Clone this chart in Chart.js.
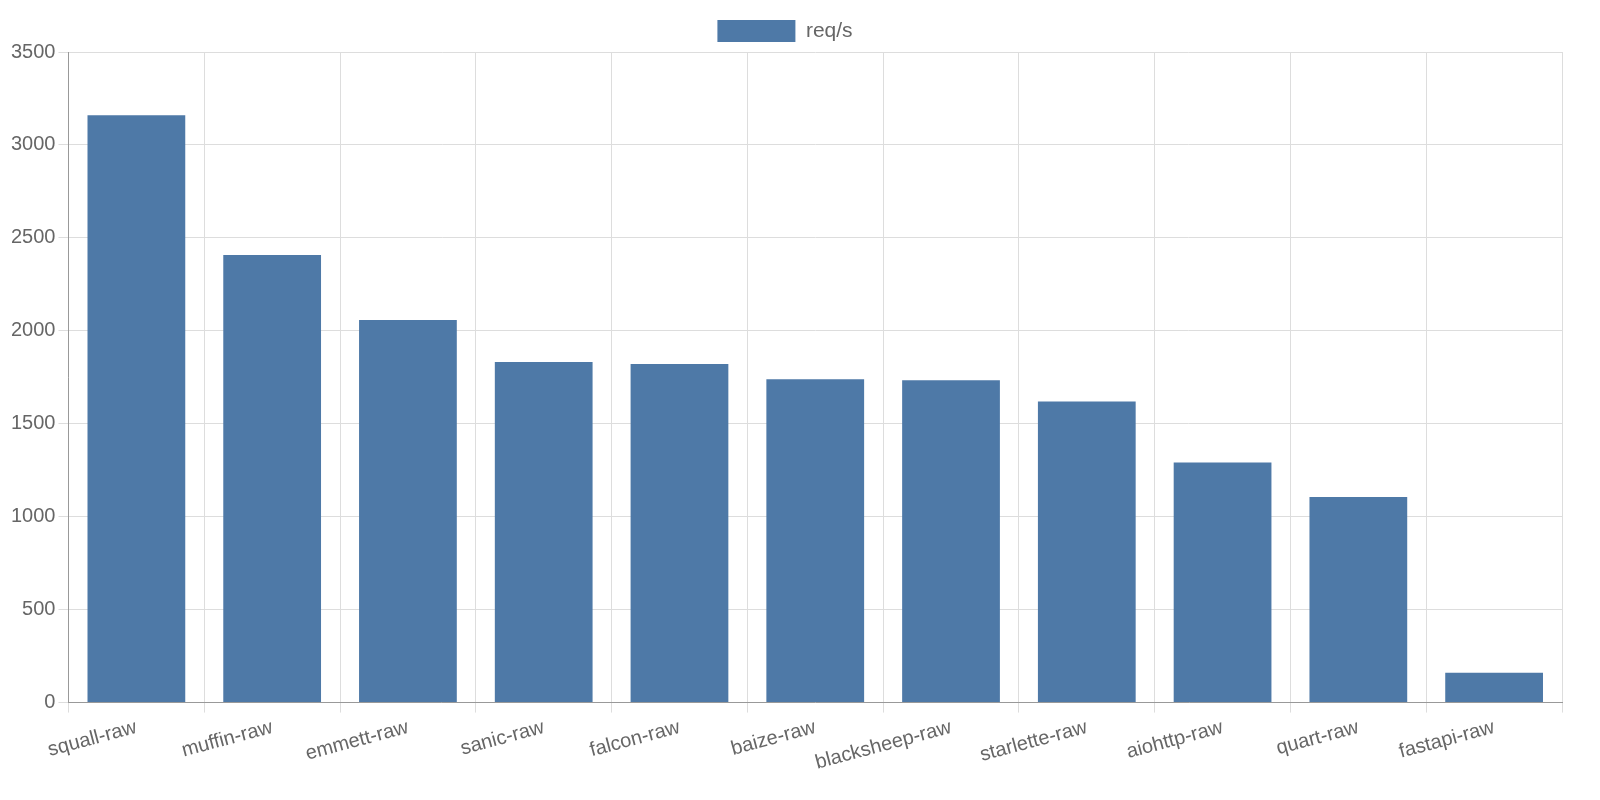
<!DOCTYPE html>
<html><head><meta charset="utf-8">
<script src="https://cdn.jsdelivr.net/npm/chart.js@4/dist/chart.umd.min.js"></script>
<style>html,body{margin:0;padding:0;background:#fff;overflow:hidden}#w{width:1600px;height:800px}</style>
</head><body><div id="w"><canvas id="c"></canvas></div>
<script>
const categories=["squall-raw","muffin-raw","emmett-raw","sanic-raw","falcon-raw","baize-raw","blacksheep-raw","starlette-raw","aiohttp-raw","quart-raw","fastapi-raw"];
const reqs=[3160,2408,2058,1832,1822,1739,1734,1620,1292,1106,160];
const seriesName="req/s";
Chart.defaults.font.family="'Liberation Sans', Arial, sans-serif";
Chart.defaults.font.size=20;
Chart.defaults.color="#666";
new Chart(document.getElementById('c'),{
type:'bar',
data:{labels:categories,datasets:[{label:seriesName,data:reqs,backgroundColor:'#4e79a7',borderWidth:0}]},
options:{responsive:true,maintainAspectRatio:false,animation:false,
layout:{padding:{left:8,right:38,top:10,bottom:22}},
plugins:{legend:{labels:{boxWidth:78,boxHeight:22,font:{size:21}}},tooltip:{enabled:false}},
scales:{
x:{ticks:{maxRotation:15,minRotation:15,font:{size:20}},grid:{color:'#ddd',tickLength:10},border:{color:'#999'}},
y:{min:0,max:3500,ticks:{stepSize:500,font:{size:20},callback:v=>String(v)},grid:{color:'#ddd',tickLength:10},border:{color:'#999'}}
}}});
</script></body></html>
